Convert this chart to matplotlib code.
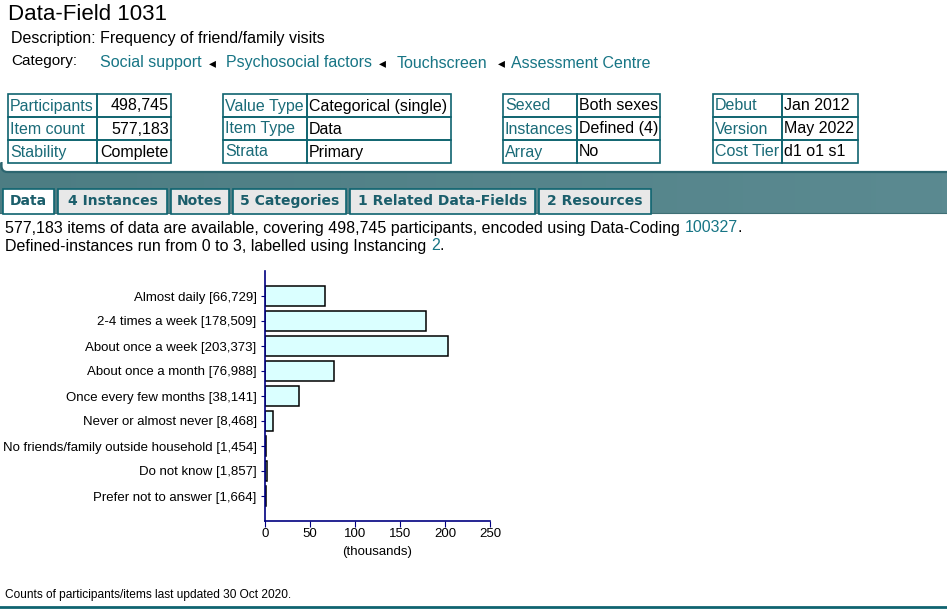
import matplotlib
matplotlib.use('Agg')
import matplotlib.pyplot as plt
import numpy as np
from matplotlib.patches import Rectangle, PathPatch
from matplotlib.path import Path
from matplotlib.colors import LinearSegmentedColormap

# Data
categories = ['Almost daily', '2-4 times a week', 'About once a week',
              'About once a month', 'Once every few months',
              'Never or almost never', 'No friends/family outside household',
              'Do not know', 'Prefer not to answer']
counts = [66729, 178509, 203373, 76988, 38141, 8468, 1454, 1857, 1664]
x_ticks = [0, 50, 100, 150, 200, 250]

tables = [
    [('Participants', '498,745'), ('Item count', '577,183'), ('Stability', 'Complete')],
    [('Value Type', 'Categorical (single)'), ('Item Type', 'Data'), ('Strata', 'Primary')],
    [('Sexed', 'Both sexes'), ('Instances', 'Defined (4)'), ('Array', 'No')],
    [('Debut', 'Jan 2012'), ('Version', 'May 2022'), ('Cost Tier', 'd1 o1 s1')],
]
tabs = ['Data', '4 Instances', 'Notes', '5 Categories', '1 Related Data-Fields', '2 Resources']
cat_links = ['Social support', 'Psychosocial factors', 'Touchscreen', 'Assessment Centre']

# Colours
TEAL = '#1a6b78'
LINK = '#177585'
BORDER = '#0f6470'
TABTXT = '#1b5e6b'
BAR = '#daffff'
NAVY = '#000080'

FONT = ['Liberation Sans', 'DejaVu Sans']
W, H = 947, 609

fig = plt.figure(figsize=(W / 100, H / 100), dpi=100)
fig.patch.set_facecolor('white')

# page-level axes in pixel coordinates
bg = fig.add_axes([0, 0, 1, 1])
bg.axis('off')

# Header
bg.text(8, 14, 'Data-Field 1031', fontsize=16, family=FONT, va='center', ha='left')
bg.text(11, 38, 'Description: Frequency of friend/family visits', fontsize=11.5,
        family=FONT, va='center', ha='left')
bg.text(11, 61, 'Category:', fontsize=11, family=FONT, va='center', ha='left')
link_x = [100, 226, 397, 511]
arrow_x = [209, 379, 498]
for txt, x in zip(cat_links, link_x):
    bg.text(x, 63, txt, fontsize=11.5, family=FONT, color=LINK, va='center', ha='left')
for x in arrow_x:
    bg.text(x, 63.5, '\u25c2', fontsize=10, family='DejaVu Sans', color='black',
            va='center', ha='left')

# Info tables
table_cols = [(8, 97, 171), (223, 307, 451), (503, 577, 660), (713, 782, 858)]
row_y = [94, 117, 140, 163]
for t, (x0, xm, x1) in zip(tables, table_cols):
    for i, (lab, val) in enumerate(t):
        ya, yb = row_y[i], row_y[i + 1]
        bg.add_patch(Rectangle((x0, ya), xm - x0, yb - ya, fill=False,
                               edgecolor=BORDER, lw=1.2))
        bg.add_patch(Rectangle((xm, ya), x1 - xm, yb - ya, fill=False,
                               edgecolor=BORDER, lw=1.2))
        yc = (ya + yb) / 2 + 0.5
        bg.text(x0 + 2, yc, lab, fontsize=11.5, family=FONT, color=TEAL,
                va='center', ha='left')
        if x0 == 8:
            bg.text(x1 - 2, yc, val, fontsize=11.5, family=FONT, va='center', ha='right')
        else:
            bg.text(xm + 2, yc, val, fontsize=11.5, family=FONT, va='center', ha='left')

# Teal band with gradient, white panel with rounded corner above it
cmap = LinearSegmentedColormap.from_list('band', ['#4d7d83', '#5b8a91'])
bg.imshow(np.linspace(0, 1, 200).reshape(1, -1), cmap=cmap, aspect='auto',
          extent=(0, W, 213, 163), zorder=0.5)
panel = Path([(1.5, 158), (1.5, 166), (1.5, 172), (7.5, 172), (W + 5, 172),
              (W + 5, 158), (1.5, 158)],
             [Path.MOVETO, Path.LINETO, Path.CURVE3, Path.CURVE3, Path.LINETO,
              Path.LINETO, Path.CLOSEPOLY])
bg.add_patch(PathPatch(panel, facecolor='white', edgecolor='none', zorder=0.6))
bg.add_patch(Rectangle((0, 150), W, 13, facecolor='white', edgecolor='none', zorder=0.55))
edge = Path([(1.5, 162), (1.5, 166), (1.5, 172), (7.5, 172), (W, 172)],
            [Path.MOVETO, Path.LINETO, Path.CURVE3, Path.CURVE3, Path.LINETO])
bg.add_patch(PathPatch(edge, fill=False, edgecolor='#2c6670', lw=1.6, zorder=0.7))
bg.plot([0, W], [213, 213], color='#3f6f75', lw=0.8, zorder=0.7)

# Tabs
tab_x = [(3, 54), (58, 167), (171, 229), (233, 346), (350, 535), (539, 651)]
for i, (name, (xa, xb)) in enumerate(zip(tabs, tab_x)):
    face = 'white' if i == 0 else '#e8e8e8'
    bg.add_patch(Rectangle((xa, 189), xb - xa, 25, facecolor=face,
                           edgecolor=BORDER, lw=1.2, zorder=1))
    bg.text((xa + xb) / 2, 201, name, fontsize=10, family='DejaVu Sans',
            fontweight='bold', color=TABTXT, va='center', ha='center', zorder=2)

# Body text
t1 = bg.text(5, 228, '577,183 items of data are available, covering 498,745 participants, '
             'encoded using Data-Coding ', fontsize=11.5, family=FONT, va='center', ha='left')
t1b = bg.annotate('100327', xy=(1, 0), xycoords=t1, va='bottom', ha='left',
                  fontsize=11.5, family=FONT, color=LINK)
bg.annotate('.', xy=(1, 0), xycoords=t1b, va='bottom', ha='left', fontsize=11.5, family=FONT)
t2 = bg.text(5, 246, 'Defined-instances run from 0 to 3, labelled using Instancing ',
             fontsize=11.5, family=FONT, va='center', ha='left')
t2b = bg.annotate('2', xy=(1, 0), xycoords=t2, va='bottom', ha='left',
                  fontsize=11.5, family=FONT, color=LINK)
bg.annotate('.', xy=(1, 0), xycoords=t2b, va='bottom', ha='left', fontsize=11.5, family=FONT)

# Footer
bg.text(5, 595, 'Counts of participants/items last updated 30 Oct 2020.', fontsize=8.6,
        family=['Liberation Sans Narrow', 'Liberation Sans'], va='center', ha='left')
bg.plot([0, W], [606.5, 606.5], color=BORDER, lw=2)

bg.set_xlim(0, W)
bg.set_ylim(H, 0)

# Bar chart
ax = fig.add_axes([265 / W, (H - 521) / H, 225 / W, 250 / H])
ax.set_facecolor('none')
labels = [f'{c} [{n:,}]' for c, n in zip(categories, counts)]
ypos = np.arange(len(categories))
ax.barh(ypos, np.array(counts) / 1000, height=0.8, color=BAR, edgecolor='black', lw=1.1)
ax.set_yticks(ypos)
ax.set_yticklabels(labels, family=FONT, fontsize=9.5)
ax.set_ylim(len(categories), -1)
ax.set_xlim(0, 250)
ax.set_xticks(x_ticks)
ax.set_xticklabels([str(v) for v in x_ticks], family=FONT, fontsize=9.5)
ax.set_xlabel('(thousands)', family=FONT, fontsize=9.5, labelpad=4)
for s in ['top', 'right']:
    ax.spines[s].set_visible(False)
for s in ['left', 'bottom']:
    ax.spines[s].set_color(NAVY)
    ax.spines[s].set_linewidth(1.2)
ax.tick_params(axis='y', length=3, color=NAVY, pad=3)
ax.tick_params(axis='x', length=4, color=NAVY, pad=1)

fig.savefig('out.png', dpi=100)
